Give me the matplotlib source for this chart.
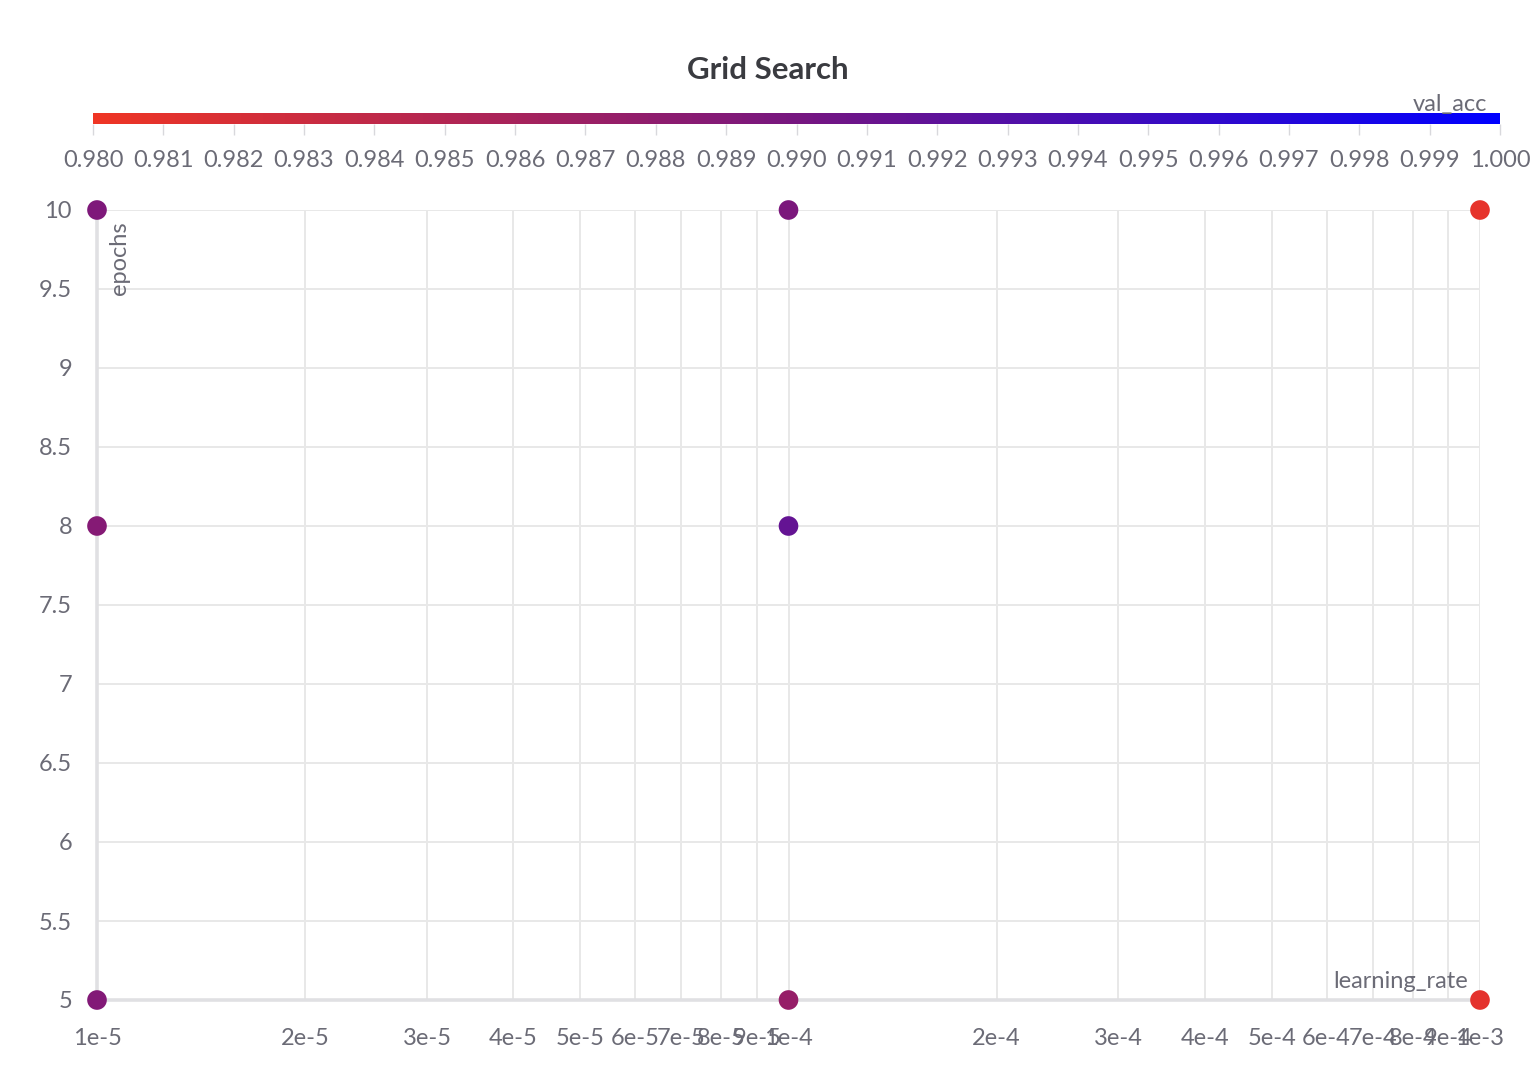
import matplotlib
matplotlib.use("Agg")
import matplotlib.pyplot as plt
from matplotlib.colors import LinearSegmentedColormap, Normalize
from matplotlib.cm import ScalarMappable
from matplotlib.ticker import NullLocator

# runs of the grid search
learning_rate = [1e-5, 1e-5, 1e-5, 1e-4, 1e-4, 1e-4, 1e-3, 1e-3]
epochs = [10, 8, 5, 10, 8, 5, 10, 5]
val_acc = [0.9893, 0.9888, 0.9890, 0.9896, 0.9915, 0.9874, 0.9808, 0.9810]

x_ticks = [1e-5, 2e-5, 3e-5, 4e-5, 5e-5, 6e-5, 7e-5, 8e-5, 9e-5,
           1e-4, 2e-4, 3e-4, 4e-4, 5e-4, 6e-4, 7e-4, 8e-4, 9e-4, 1e-3]
x_labels = ["1e-5", "2e-5", "3e-5", "4e-5", "5e-5", "6e-5", "7e-5", "8e-5", "9e-5",
            "1e-4", "2e-4", "3e-4", "4e-4", "5e-4", "6e-4", "7e-4", "8e-4", "9e-4", "1e-3"]
y_ticks = [5, 5.5, 6, 6.5, 7, 7.5, 8, 8.5, 9, 9.5, 10]
y_labels = ["5", "5.5", "6", "6.5", "7", "7.5", "8", "8.5", "9", "9.5", "10"]
cbar_ticks = [0.980, 0.981, 0.982, 0.983, 0.984, 0.985, 0.986, 0.987, 0.988, 0.989, 0.990,
              0.991, 0.992, 0.993, 0.994, 0.995, 0.996, 0.997, 0.998, 0.999, 1.000]

plt.rcParams["font.family"] = ["Lato", "DejaVu Sans"]
text_color = "#6b6b76"
grid_color = "#e8e8e8"
fs = 17

cmap = LinearSegmentedColormap.from_list("wb", ["#ef3524", "#761680", "#0000ff"])
norm = Normalize(vmin=0.980, vmax=1.000)

fig = plt.figure(figsize=(15.36, 10.69), dpi=100)
ax = fig.add_axes([97 / 1536, 1 - 1000 / 1069, 1383 / 1536, 790 / 1069])

ax.scatter(learning_rate, epochs, c=val_acc, cmap=cmap, norm=norm, s=200,
           linewidths=0, clip_on=False, zorder=4)

ax.set_xscale("log")
ax.set_xlim(1e-5, 1e-3)
ax.set_ylim(5, 10)
ax.set_xticks(x_ticks, labels=x_labels)
ax.xaxis.set_minor_locator(NullLocator())
ax.set_yticks(y_ticks, labels=y_labels)
ax.tick_params(axis="x", length=0, pad=20, labelsize=fs, labelcolor=text_color)
ax.tick_params(axis="y", length=0, pad=18, labelsize=fs, labelcolor=text_color)
ax.grid(True, color=grid_color, linewidth=1.4, zorder=0)
ax.set_axisbelow(True)
for side in ["top", "right"]:
    ax.spines[side].set_visible(False)
for side in ["left", "bottom"]:
    ax.spines[side].set_color("#e0e0e3")
    ax.spines[side].set_linewidth(2.6)

ax.text(0.0166, 0.985, "epochs", transform=ax.transAxes, rotation=90,
        ha="center", va="top", fontsize=fs, color=text_color)
ax.text(0.991, 0.024, "learning_rate", transform=ax.transAxes,
        ha="right", va="center", fontsize=fs, color=text_color)

# colour scale on top
cax = fig.add_axes([93 / 1536, 1 - 124 / 1069, 1407 / 1536, 11 / 1069])
cb = fig.colorbar(ScalarMappable(norm=norm, cmap=cmap), cax=cax, orientation="horizontal")
cb.outline.set_visible(False)
cb.set_ticks(cbar_ticks)
cb.set_ticklabels(["%.3f" % t for t in cbar_ticks])
cax.xaxis.set_ticks_position("bottom")
cax.tick_params(axis="x", length=8, width=1, color="#d8d8dc", pad=11,
                labelsize=fs, labelcolor=text_color)
fig.text(1487 / 1536, 1 - 104 / 1069, "val_acc", ha="right", va="center",
         fontsize=fs, color=text_color)

fig.text(0.5, 1 - 70 / 1069, "Grid Search", ha="center", va="center",
         fontsize=22.5, fontweight="bold", color="#3a3b40")

fig.savefig("out.png", dpi=100)
plt.close(fig)
